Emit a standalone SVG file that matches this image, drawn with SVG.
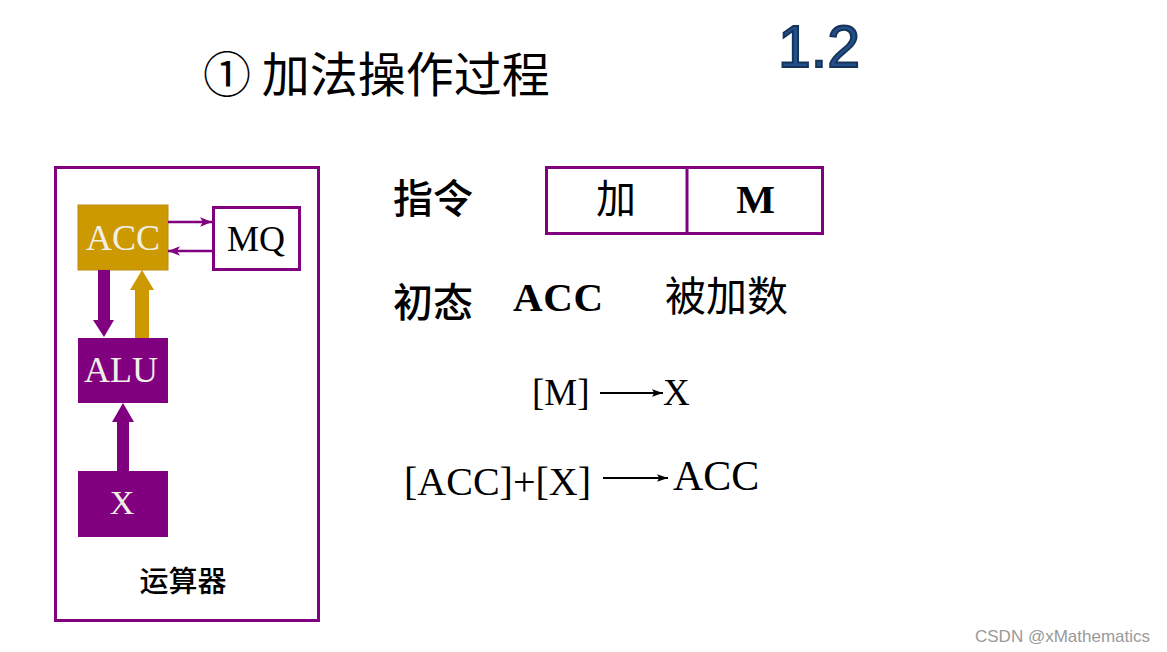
<svg xmlns="http://www.w3.org/2000/svg" width="1167" height="652" viewBox="0 0 1167 652">
<defs>
<style>
.cjk{font-family:"Noto Sans CJK SC","Noto Sans",sans-serif;fill:#000;font-weight:400}
.cjkm{font-family:"Noto Sans CJK SC","Noto Sans",sans-serif;fill:#000;font-weight:500}
.serif{font-family:"Liberation Serif","Times New Roman",serif}
.wt{fill:#F2F0E6}
.pbox{fill:none;stroke:#800080;stroke-width:3}
.thin{stroke:#800080;stroke-width:2.5;fill:none}
</style>
<marker id="ah" viewBox="0 0 10 10" refX="10" refY="5" markerWidth="12" markerHeight="12" orient="auto" markerUnits="userSpaceOnUse">
<path d="M0,1 L10,5 L0,9 L2.5,5 z" fill="#800080"/>
</marker>
<marker id="bh" viewBox="0 0 10 10" refX="10" refY="5" markerWidth="11" markerHeight="11" orient="auto" markerUnits="userSpaceOnUse">
<path d="M0,1.5 L10,5 L0,8.5 L2,5 z" fill="#000"/>
</marker>
</defs>
<rect width="1167" height="652" fill="#fff"/>

<g id="title">
<text x="203" y="92" class="cjk" font-size="48">① 加法操作过程</text>
</g>
<g id="section-number">
<text x="778" y="67" font-family="Liberation Sans,Arial,sans-serif" font-size="59" fill="#22508A" stroke="#17335A" stroke-width="2">1.2</text>
</g>

<g id="alu-unit">
<rect x="55.5" y="167.5" width="263" height="453" class="pbox"/>
<text x="183" y="592" class="cjkm" font-size="29" text-anchor="middle">运算器</text>
</g>

<g id="node-acc">
<rect x="78" y="205" width="90" height="65" fill="#CC9900" stroke="#C08A10" stroke-width="1"/>
<text x="123" y="250" class="serif wt" font-size="36" text-anchor="middle">ACC</text>
</g>
<g id="node-mq">
<rect x="213.5" y="207.5" width="86" height="62" fill="#fff" stroke="#800080" stroke-width="3"/>
<text x="256" y="251" class="serif" font-size="36" text-anchor="middle" fill="#000">MQ</text>
</g>
<g id="node-alu">
<rect x="78" y="338" width="90" height="65" fill="#800080"/>
<text x="121" y="382" class="serif wt" font-size="36" text-anchor="middle">ALU</text>
</g>
<g id="node-x">
<rect x="78" y="471" width="90" height="66" fill="#800080"/>
<text x="122" y="514" class="serif wt" font-size="34" text-anchor="middle">X</text>
</g>

<g id="connectors">
<line x1="168" y1="222" x2="212" y2="222" class="thin" marker-end="url(#ah)"/>
<line x1="212" y1="251" x2="168" y2="251" class="thin" marker-end="url(#ah)"/>
<path d="M98,270 H110 V320 H114 L104,337 L93,320 H98 Z" fill="#800080"/>
<path d="M135,338 V290 H130 L142,270 L154,290 H149 V338 Z" fill="#CC9900"/>
<path d="M117,471 V422 H112 L123,403 L134,422 H129 V471 Z" fill="#800080"/>
<line x1="600" y1="393" x2="663" y2="393" stroke="#000" stroke-width="2" marker-end="url(#bh)"/>
<line x1="603" y1="478" x2="668" y2="478" stroke="#000" stroke-width="2" marker-end="url(#bh)"/>
</g>

<g id="instruction">
<text x="393" y="213" class="cjkm" font-size="40">指令</text>
<rect x="546.5" y="167.5" width="276" height="66" class="pbox"/>
<line x1="687" y1="167.5" x2="687" y2="233.5" stroke="#800080" stroke-width="3"/>
<text x="616" y="213" class="cjk" font-size="40" text-anchor="middle">加</text>
<text x="755.5" y="213" class="serif" font-size="41" font-weight="bold" text-anchor="middle" fill="#000">M</text>
</g>

<g id="initial-state">
<text x="393" y="317" class="cjkm" font-size="40">初态</text>
<text x="513" y="311" class="serif" font-size="41" font-weight="bold" fill="#000" textLength="90">ACC</text>
<text x="665" y="311" class="cjk" font-size="41">被加数</text>
</g>

<g id="steps">
<text x="532" y="405" class="serif" font-size="37" fill="#000">[M]</text>
<text x="663" y="405" class="serif" font-size="37" fill="#000">X</text>
<text x="404" y="495" class="serif" font-size="40" fill="#000">[ACC]+[X]</text>
<text x="673" y="490" class="serif" font-size="42" fill="#000">ACC</text>
</g>

<g id="watermark">
<text x="975" y="642" font-family="Liberation Sans,Arial,sans-serif" font-size="17" fill="#999">CSDN @xMathematics</text>
</g>
</svg>
